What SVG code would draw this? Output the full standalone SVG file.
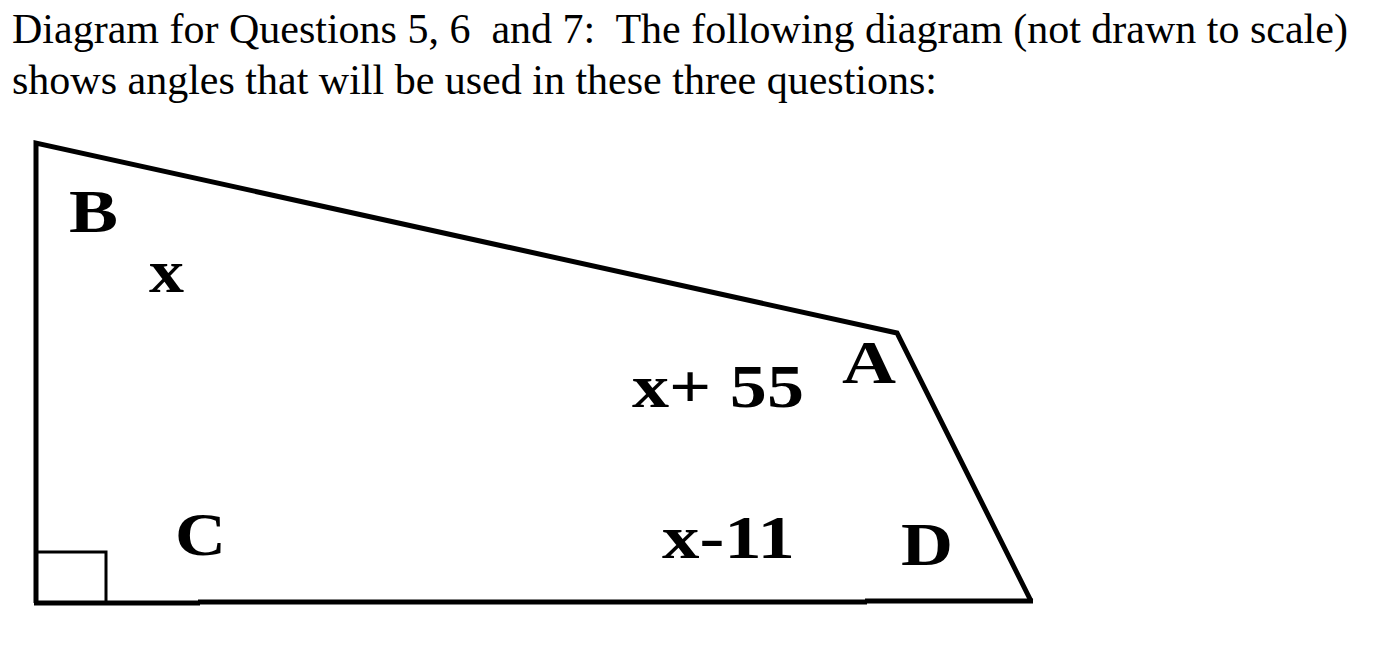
<svg xmlns="http://www.w3.org/2000/svg" width="1382" height="647" viewBox="0 0 1382 647">
<style>
.title{font-family:"Liberation Serif",serif;font-size:42px;fill:#000;white-space:pre}
.lbl{font-family:"Liberation Serif",serif;font-weight:bold;font-size:62px;fill:#000;white-space:pre}
.edge{stroke:#000;stroke-width:5;fill:none;stroke-linejoin:miter}
.sq{stroke:#000;stroke-width:3;fill:none}
</style>
<rect width="1382" height="647" fill="#fff"/>
<g id="title">
<text class="title" x="12" y="43" xml:space="preserve">Diagram for Questions 5, 6  and 7:  The following diagram (not drawn to scale)</text>
<text class="title" x="12" y="94">shows angles that will be used in these three questions:</text>
</g>
<g id="connectors">
<path class="edge" d="M36,603 L36,143 L897,333 L1031,601"/>
<path class="edge" d="M34,603 L200,603 M198,602 L867,602 M865,601 L1033,601"/>
<path class="sq" d="M37,552 L106,552 L106,605"/>
</g>
<g id="node-B"><text class="lbl" x="69" y="232" textLength="49" lengthAdjust="spacingAndGlyphs">B</text></g>
<g id="node-x"><text class="lbl" x="149" y="292" textLength="35" lengthAdjust="spacingAndGlyphs">x</text></g>
<g id="node-A"><text class="lbl" x="842" y="383" textLength="54" lengthAdjust="spacingAndGlyphs">A</text></g>
<g id="node-x55"><text class="lbl" x="632" y="407" textLength="172" lengthAdjust="spacingAndGlyphs">x+ 55</text></g>
<g id="node-C"><text class="lbl" x="175" y="555" textLength="51" lengthAdjust="spacingAndGlyphs">C</text></g>
<g id="node-x11"><text class="lbl" x="662" y="558" textLength="133" lengthAdjust="spacingAndGlyphs">x-11</text></g>
<g id="node-D"><text class="lbl" x="901" y="565" textLength="52" lengthAdjust="spacingAndGlyphs">D</text></g>
</svg>
